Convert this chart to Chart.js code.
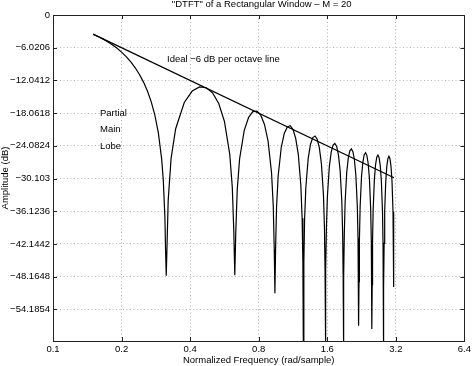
<!DOCTYPE html>
<html>
<head>
<meta charset="utf-8">
<script src="https://cdn.jsdelivr.net/npm/chart.js@4.4.1/dist/chart.umd.min.js"></script>
<style>
  html, body { margin: 0; padding: 0; background: #fff; }
  #wrap { width: 474px; height: 366px; }
</style>
</head>
<body>
<div id="wrap"><canvas id="dtft" width="474" height="366"></canvas></div>
<script>
// |W(w)| in dB for the length-20 rectangular window
const freq = [
  0.15, 0.16, 0.17, 0.18, 0.19, 0.20, 0.21, 0.22, 0.23, 0.24, 0.25, 0.26, 0.27, 0.28, 0.29, 0.30, 0.305, 0.31, 0.312, 0.3142,
  0.3204, 0.3299, 0.3456, 0.3770, 0.4084, 0.4398, 0.4712, 0.5027, 0.5341, 0.5655, 0.5969, 0.6126, 0.6220, 0.6283,
  0.6346, 0.6440, 0.6597, 0.6912, 0.7226, 0.7540, 0.7854, 0.8168, 0.8482, 0.8796, 0.9111, 0.9268, 0.9362, 0.9425,
  0.9488, 0.9582, 0.9739, 1.0053, 1.0367, 1.0681, 1.0996, 1.1310, 1.1624, 1.1938, 1.2252, 1.2409, 1.2504, 1.2566,
  1.2629, 1.2724, 1.2881, 1.3195, 1.3509, 1.3823, 1.4137, 1.4451, 1.4766, 1.5080, 1.5394, 1.5551, 1.5645, 1.5708,
  1.5771, 1.5865, 1.6022, 1.6336, 1.6650, 1.6965, 1.7279, 1.7593, 1.7907, 1.8221, 1.8535, 1.8692, 1.8787, 1.8850,
  1.8912, 1.9007, 1.9164, 1.9478, 1.9792, 2.0106, 2.0420, 2.0735, 2.1049, 2.1363, 2.1677, 2.1834, 2.1928, 2.1991,
  2.2054, 2.2148, 2.2305, 2.2619, 2.2934, 2.3248, 2.3562, 2.3876, 2.4190, 2.4504, 2.4819, 2.4976, 2.5070, 2.5133,
  2.5196, 2.5290, 2.5447, 2.5761, 2.6075, 2.6389, 2.6704, 2.7018, 2.7332, 2.7646, 2.7960, 2.8117, 2.8211, 2.8274,
  2.8337, 2.8431, 2.8588, 2.8903, 2.9217, 2.9531, 2.9845, 3.0159, 3.0473, 3.0788, 3.1102, 3.1259, 3.1353
];
const amp = [
  -3.54, -4.08, -4.67, -5.32, -6.04, -6.83, -7.71, -8.68, -9.76, -10.99, -12.40, -14.03, -15.99, -18.42, -21.64, -26.52, -30.43, -37.41, -43.16, -48.0,
  -34.12, -26.44, -20.93, -16.10, -14.00, -13.24, -13.39, -14.37, -16.29, -19.55, -25.59, -31.72, -39.78, -47.9,
  -39.94, -32.14, -26.43, -21.24, -18.83, -17.78, -17.68, -18.44, -20.15, -23.22, -29.09, -35.14, -43.15, -51.2,
  -43.25, -35.40, -29.62, -24.30, -21.76, -20.60, -20.38, -21.04, -22.65, -25.64, -31.41, -37.42, -45.41, -62,
  -45.48, -37.61, -31.79, -26.39, -23.78, -22.55, -22.27, -22.87, -24.42, -27.35, -33.07, -39.05, -47.02, -62,
  -47.08, -39.19, -33.35, -27.90, -25.24, -23.96, -23.64, -24.20, -25.71, -28.60, -34.28, -40.24, -48.20, -62,
  -48.24, -40.34, -34.48, -28.99, -26.30, -24.99, -24.64, -25.16, -26.64, -29.49, -35.15, -41.09, -49.04, -57.2,
  -49.07, -41.16, -35.29, -29.77, -27.06, -25.72, -25.33, -25.83, -27.28, -30.11, -35.74, -41.67, -49.62, -57.8,
  -49.63, -41.72, -35.83, -30.29, -27.55, -26.18, -25.78, -26.25, -27.68, -30.49, -36.09, -42.01, -49.95, -62,
  -49.96, -42.03, -36.13, -30.57, -27.81, -26.42, -25.99, -26.44, -27.85, -30.64, -36.22, -42.13, -50.06
];

// ideal -6 dB per octave line, two end points
const idealFreq = [0.15, 3.1416];
const idealAmp = [-3.52, -29.94];

const xTicks = [0.1, 0.2, 0.4, 0.8, 1.6, 3.2, 6.4];
const xTickLabels = ['0.1', '0.2', '0.4', '0.8', '1.6', '3.2', '6.4'];
const yTicks = [-54.1854, -48.1648, -42.1442, -36.1236, -30.103, -24.0824, -18.0618, -12.0412, -6.0206, 0];
const yTickLabels = ['\u221254.1854', '\u221248.1648', '\u221242.1442', '\u221236.1236', '\u221230.103',
  '\u221224.0824', '\u221218.0618', '\u221212.0412', '\u22126.0206', '0'];

const FONT = '"Liberation Sans", Arial, sans-serif';

const dtftData = freq.map((f, i) => ({ x: f, y: amp[i] }));
const idealData = idealFreq.map((f, i) => ({ x: f, y: idealAmp[i] }));

// box round the axes, inward tick marks, title and the text notes
const framePlugin = {
  id: 'frame',
  afterDraw(chart) {
    const ctx = chart.ctx;
    const a = chart.chartArea;
    const xs = chart.scales.x;
    const ys = chart.scales.y;
    ctx.save();
    ctx.strokeStyle = '#222';
    ctx.lineWidth = 1;
    ctx.strokeRect(Math.round(a.left) + 0.5, Math.round(a.top) + 0.5,
      Math.round(a.right - a.left), Math.round(a.bottom - a.top));
    ctx.beginPath();
    xTicks.forEach(v => {
      const px = Math.round(xs.getPixelForValue(v)) + 0.5;
      ctx.moveTo(px, a.bottom); ctx.lineTo(px, a.bottom - 4);
      ctx.moveTo(px, a.top); ctx.lineTo(px, a.top + 4);
    });
    yTicks.forEach(v => {
      const py = Math.round(ys.getPixelForValue(v)) + 0.5;
      ctx.moveTo(a.left, py); ctx.lineTo(a.left + 4, py);
      ctx.moveTo(a.right, py); ctx.lineTo(a.right - 4, py);
    });
    ctx.stroke();

    ctx.fillStyle = '#000';
    ctx.font = '9.5px ' + FONT;
    ctx.textAlign = 'center';
    ctx.textBaseline = 'alphabetic';
    ctx.fillText('"DTFT" of a Rectangular Window \u2013 M = 20', (a.left + a.right) / 2 + 3, 7);
    ctx.textAlign = 'left';
    ctx.textBaseline = 'middle';
    ctx.fillText('Ideal \u22126 dB per octave line', 167, 59);
    ctx.fillText('Partial', 100, 113);
    ctx.fillText('Main', 100, 129.5);
    ctx.fillText('Lobe', 100, 146);
    ctx.restore();
  }
};

new Chart(document.getElementById('dtft'), {
  type: 'scatter',
  data: {
    datasets: [{
      label: 'DTFT',
      data: dtftData,
      showLine: true,
      borderColor: '#000',
      borderWidth: 1.2,
      pointRadius: 0,
      tension: 0
    }, {
      label: 'Ideal',
      data: idealData,
      showLine: true,
      borderColor: '#000',
      borderWidth: 1.2,
      pointRadius: 0
    }]
  },
  options: {
    responsive: false,
    animation: false,
    devicePixelRatio: 1,
    layout: { padding: { top: 15, right: 6, left: 0, bottom: 0 } },
    plugins: {
      legend: { display: false },
      tooltip: { enabled: false },
      title: { display: false }
    },
    scales: {
      x: {
        type: 'logarithmic',
        min: 0.1,
        max: 6.4,
        afterBuildTicks: scale => { scale.ticks = xTicks.map(v => ({ value: v })); },
        afterFit: scale => { scale.height = 25; },
        ticks: {
          autoSkip: false,
          maxRotation: 0,
          padding: 3,
          color: '#000',
          font: { family: FONT, size: 9.5 },
          callback: (value, index) => xTickLabels[index]
        },
        grid: { color: '#b5b5b5', lineWidth: 1, drawTicks: false },
        border: { display: false, dash: [1, 2.5] },
        title: {
          display: true,
          text: 'Normalized Frequency (rad/sample)',
          color: '#000',
          font: { family: FONT, size: 9.5 },
          padding: 0
        }
      },
      y: {
        type: 'linear',
        min: -60,
        max: 0,
        afterBuildTicks: scale => { scale.ticks = yTicks.map(v => ({ value: v })); },
        afterFit: scale => { scale.width = 53; },
        ticks: {
          autoSkip: false,
          padding: 3,
          color: '#000',
          font: { family: FONT, size: 9.5 },
          callback: (value, index) => yTickLabels[index]
        },
        grid: { color: '#b5b5b5', lineWidth: 1, drawTicks: false },
        border: { display: false, dash: [1, 2.5] },
        title: {
          display: true,
          text: 'Amplitude (dB)',
          color: '#000',
          font: { family: FONT, size: 9.5 },
          padding: 0
        }
      }
    }
  },
  plugins: [framePlugin]
});
</script>
</body>
</html>
